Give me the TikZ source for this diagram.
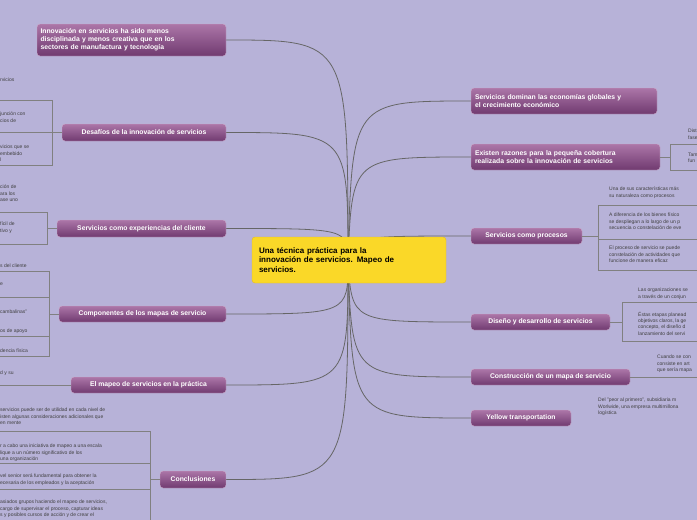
\documentclass[tikz,border=0pt]{standalone}
\usepackage{fontspec}
\setmainfont{Liberation Sans}
\definecolor{tt}{RGB}{172,118,168}
\definecolor{tb}{RGB}{112,58,112}
\begin{document}
\begin{tikzpicture}[x=1pt,y=-1pt,
 topic/.style={rounded corners=3pt,top color=tt,bottom color=tb,draw=tt!60!white,text=white,font=\bfseries\fontsize{6.8}{8}\selectfont,inner sep=2pt,align=left},
 leaf/.style={text=black!75,font=\fontsize{5}{6.2}\selectfont,align=left,anchor=north west,inner sep=0pt},
 con/.style={draw=black!60,line width=0.8pt},
 brk/.style={draw=black!50,line width=0.5pt}]
\fill[fill={rgb,255:red,183;green,178;blue,216}] (0,0) rectangle (697,520);
\clip (0,0) rectangle (697,520);
\useasboundingbox (0,0) rectangle (697,520);
\coordinate (hub) at (348,262);
\coordinate (hubl) at (348,262);
\coordinate (hubr) at (352,262);
% connectors (behind)
\foreach \y/\x in {40/226,132.5/226,228.5/226,314/226,385/226,479.5/226}{\draw[con] (hub) .. controls (hubl |- 0,\y) .. (\x,\y);}
\foreach \y in {101,157,236,322,377,418}{\draw[con] (hub) .. controls (hubr |- 0,\y) .. (471,\y);}
% center
\node[rounded corners=3pt,fill={rgb,255:red,250;green,216;blue,40},draw={rgb,255:red,230;green,190;blue,30},minimum width=194pt,minimum height=46pt,text width=180pt,align=left,font=\bfseries\fontsize{8}{9.5}\selectfont] (c) at (349,260) {Una técnica práctica para la\\innovación de servicios. Mapeo de\\servicios.};
% left topics
\node[topic,minimum width=189pt,minimum height=32pt,text width=182pt] (l1) at (131.5,40) {Innovación en servicios ha sido menos\\disciplinada y menos creativa que en los\\sectores de manufactura y tecnología};
\node[topic,minimum width=164pt,minimum height=17pt] (l2) at (144,132.5) {Desafíos de la innovación de servicios};
\node[topic,minimum width=169pt,minimum height=17pt] (l3) at (141.5,228.5) {Servicios como experiencias del cliente};
\node[topic,minimum width=167pt,minimum height=16pt] (l4) at (142.5,314) {Componentes de los mapas de servicio};
\node[topic,minimum width=155pt,minimum height=16pt] (l5) at (148.5,385) {El mapeo de servicios en la práctica};
\node[topic,minimum width=66pt,minimum height=17pt] (l6) at (193,479.5) {Conclusiones};
% right topics
\node[topic,minimum width=186pt,minimum height=26pt,text width=178pt] (r1) at (564,101) {Servicios dominan las economías globales y\\el crecimiento económico};
\node[topic,minimum width=189pt,minimum height=26pt,text width=181pt] (r2) at (565.5,157) {Existen razones para la pequeña cobertura\\realizada sobre la innovación de servicios};
\node[topic,minimum width=111pt,minimum height=16pt] (r3) at (526.5,236) {Servicios como procesos};
\node[topic,minimum width=139pt,minimum height=16pt] (r4) at (540.5,322) {Diseño y desarrollo de servicios};
\node[topic,minimum width=159pt,minimum height=16pt] (r5) at (550.5,377) {Construcción de un mapa de servicio};
\node[topic,minimum width=100pt,minimum height=16pt] (r6) at (521,418) {Yellow transportation};
% left leaves
\draw[brk] (l2.west) -- (52,132.5); \draw[brk] (0,100) -- (52,100) -- (52,165) -- (0,165); \draw[brk] (0,132.5)--(52,132.5);
\node[leaf] (t1) at (0,78) {rvicios\\};
\node[leaf] (t2) at (0,112) {junción con\\cios de};
\node[leaf] (t3) at (0,145) {vicios que se\\embebido\\l};
\node[leaf] (t4) at (0,185) {ción de\\ara los\\ase uno};
\draw[brk] (l3.west) -- (47,228.5); \draw[brk] (0,212) -- (47,212) -- (47,244) -- (0,244);
\node[leaf] (t5) at (0,222) {fícil de\\tivo y};
\node[leaf] (t6) at (0,264) {s del cliente};
\draw[brk] (l4.west) -- (49,314); \draw[brk] (0,271) -- (49,271) -- (49,356) -- (0,356);
\foreach \yy in {297,336}{\draw[brk] (0,\yy)--(49,\yy);}
\node[leaf] (t7) at (0,283) {e};
\node[leaf] (t8) at (0,310) {cambalinas"};
\node[leaf] (t9) at (0,329) {os de apoyo};
\node[leaf] (t10) at (0,349) {dencia física};
\node[leaf] (t11) at (0,371) {d y su};
\draw[brk] (l5.west) -- (0,385);
\node[leaf] (t12) at (0,408) {servicios puede ser de utilidad en cada nivel de\\isten algunas consideraciones adicionales que\\en mente};
\draw[brk] (l6.west) -- (150,479.5); \draw[brk] (0,431) -- (150,431) -- (150,520); \draw[brk] (0,463)--(150,463); \draw[brk] (0,489)--(150,489);
\node[leaf] (t13) at (0,444) {r a cabo una iniciativa de mapeo a una escala\\lique a un número significativo de los\\una organización};
\node[leaf] (t14) at (0,474) {vel senior será fundamental para obtener la\\ecesaria de los empleados y la aceptación};
\node[leaf] (t15) at (0,500) {asiados grupos haciendo el mapeo de servicios,\\cargo de supervisar el proceso, capturar ideas\\s y posibles cursos de acción y de crear el};
% right leaves
\draw[brk] (r2.east) -- (670,157); \draw[brk] (697,144) -- (670,144) -- (670,170) -- (697,170);
\node[leaf] (u1) at (688,129) {Dist\\fase};
\node[leaf] (u2) at (688,153) {Tam\\fun};
\node[leaf] (u3) at (609,187) {Una de sus características más\\su naturaleza como procesos};
\draw[brk] (r3.east) -- (598,236); \draw[brk] (697,205) -- (598,205) -- (598,270) -- (697,270); \draw[brk] (598,239)--(697,239);
\node[leaf] (u4) at (609,213) {A diferencia de los bienes físico\\se despliegan a lo largo de un p\\secuencia o constelación de eve};
\node[leaf] (u5) at (609,246) {El proceso de servicio se puede\\constelación de actividades que\\funcione de manera eficaz};
\node[leaf] (u6) at (638,288) {Las organizaciones se\\a través de un conjun};
\draw[brk] (r4.east) -- (622,322); \draw[brk] (697,302) -- (622,302) -- (622,341) -- (697,341);
\node[leaf] (u7) at (638,312) {Éstas etapas planead\\objetivos claros, la ge\\concepto, el diseño d\\lanzamiento del servi};
\node[leaf] (u8) at (657,355) {Cuando se con\\consiste en art\\que sería mapa};
\draw[brk] (r5.east) -- (697,377);
\node[leaf] (u9) at (598,398) {Del "peor al primero", subsidiaria m\\Worlwide, una empresa multimillona\\logística};
\end{tikzpicture}
\end{document}
